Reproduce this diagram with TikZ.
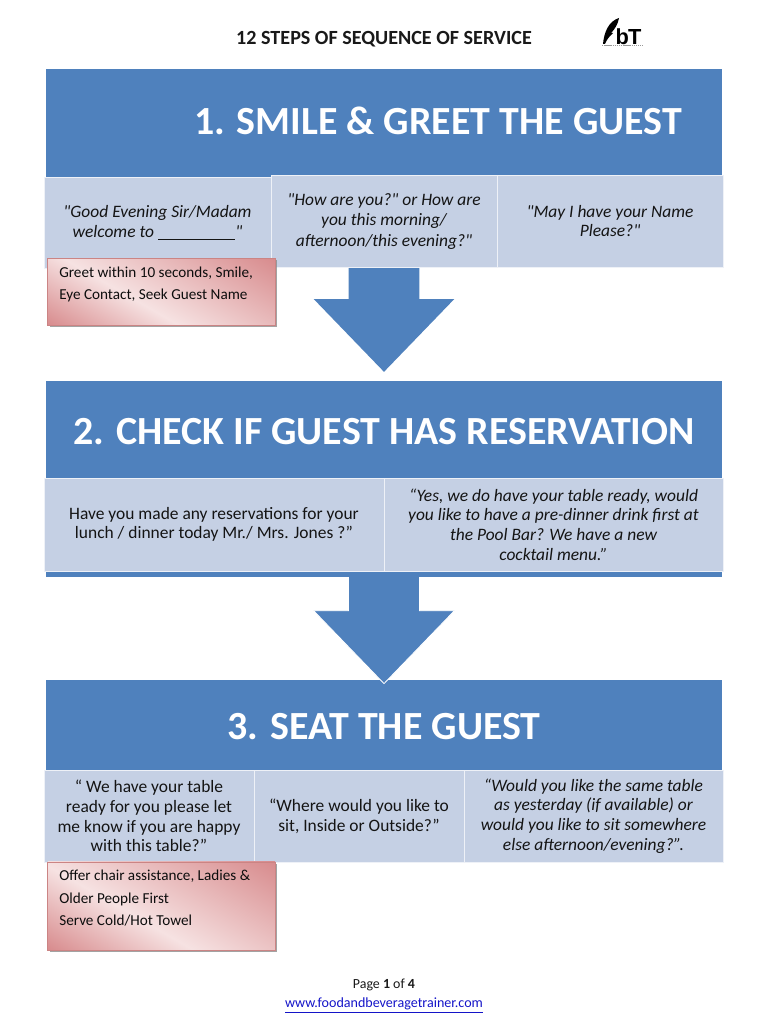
\documentclass[tikz,border=0pt]{standalone}
\usepackage{fontspec}
\setmainfont{Carlito}[Ligatures=TeXOff]
\newfontfamily\logofont{Liberation Sans}
\usetikzlibrary{positioning, shapes.arrows, shadows, calc}
\definecolor{headblue}{RGB}{79,129,189}
\definecolor{cellblue}{RGB}{197,208,228}
\definecolor{noteline}{RGB}{203,132,132}
\definecolor{linkblue}{RGB}{20,20,200}
\definecolor{notedark}{RGB}{216,140,142}
\definecolor{notepale}{RGB}{246,226,226}
\pgfdeclarehorizontalshading{notegrad}{100bp}{color(0bp)=(notedark); color(16bp)=(notedark); color(42bp)=(notepale); color(84bp)=(notedark); color(100bp)=(notedark)}

\begin{document}
\begin{tikzpicture}[
  x=0.025cm, y=-0.025cm,
  head/.style={fill=headblue, minimum width=16.9cm, inner sep=0pt, outer sep=0pt},
  htitle/.style={font=\fontsize{28.4}{32}\selectfont\bfseries\color{white}, inner sep=0pt, align=center},
  cell/.style={fill=cellblue, draw=white!70!cellblue, line width=0.6pt, align=center, inner sep=0pt, outer sep=0pt, text=black!92, font=\fontsize{12.4}{14}\selectfont},
  cellit/.style={cell, font=\fontsize{12.4}{14}\selectfont\itshape},
  note/.style={draw=noteline, line width=0.7pt, minimum width=5.675cm, inner sep=0pt, shading=notegrad, shading angle=60, drop shadow={shadow xshift=1.2pt, shadow yshift=-1.2pt, fill=black!45, opacity=0.8}},
  notetxt/.style={anchor=north west, align=left, inner sep=0pt, text=black!95, font=\fontsize{10.8}{16}\selectfont},
  blockarr/.style={single arrow, fill=headblue, draw=none, shape border rotate=270, minimum width=3.5cm, single arrow head extend=0.875cm, single arrow tip angle=88, inner sep=0.875cm, outer sep=0pt},
]
  \useasboundingbox (0,0) rectangle (768,1024);

  \node[font=\fontsize{14.3}{16}\selectfont\bfseries, text=black!90] (maintitle) at (384,39) {12 STEPS OF SEQUENCE OF SERVICE};
  % logo
  \fill[black] (619,18) .. controls (609,21) and (604,32) .. (603,44) -- (605,44) .. controls (607,39) and (609,37) .. (613,33) -- (611,33) .. controls (615,29) and (618,24) .. (619,18) -- cycle;
  \node[font=\fontsize{15.5}{16}\selectfont\bfseries\logofont, inner sep=0pt] (logotxt) at (628.5,36.5) {b\kern-0.5pt T};
  \draw[black!40, line width=0.8pt, dash pattern=on 1pt off 0.5pt] (602,45.5) -- (643,45.5);

  % step 1
  \node[blockarr, minimum height=2.6cm] (arr1) at (384,300) {};
  \node[head, minimum height=2.7cm] (head1) at (384,123) {};
  \node[htitle] (title1) at (438,121) {1. SMILE \& GREET THE GUEST};
  \node[cellit, minimum width=5.675cm, minimum height=2.275cm] (c11) at (157.5,222.5) {"Good Evening Sir/Madam\\welcome to \rule[-1.6pt]{55pt}{0.6pt}"};
  \node[cellit, minimum width=5.65cm, minimum height=2.3cm, font=\fontsize{12.4}{14.3}\selectfont\itshape] (c12) at (384,221.5) {"How are you?" or How are\\you this morning/\\afternoon/this evening?"};
  \node[cellit, minimum width=5.65cm, minimum height=2.3cm] (c13) at (610,221) {"May I have your Name\\Please?"};
  \node[note, minimum height=1.675cm] (note1) at (161.5,292) {};
  \node[notetxt] (note1txt) at (59,266.5) {Greet within 10 seconds, Smile,\\Eye Contact, Seek Guest Name};

  % step 3
  \node[head, minimum height=2.25cm] (head3) at (384,725) {};
  \node[htitle] (title3) at (384,727) {3. SEAT THE GUEST};
  \node[cell, minimum width=5.25cm, minimum height=2.3cm] (c31) at (149,816) {“ We have your table\\ready for you please let\\me know if you are happy\\with this table?”};
  \node[cell, minimum width=5.25cm, minimum height=2.3cm] (c32) at (359,816) {“Where would you like to\\sit, Inside or Outside?”};
  \node[cellit, minimum width=6.475cm, minimum height=2.3cm] (c33) at (593.5,816) {“Would you like the same table\\as yesterday (if available) or\\would you like to sit somewhere\\else afternoon/evening?”.};
  \node[note, minimum height=2.2cm] (note2) at (161.5,906) {};
  \node[notetxt] (note2txt) at (59,870) {Offer chair assistance, Ladies \&\\Older People First\\Serve Cold/Hot Towel};

  \node[blockarr, draw=white, line width=0.6pt, minimum height=2.675cm] (arr2) at (384,611.5) {};

  % step 2
  \node[head, minimum height=4.9cm] (head2) at (384,479) {};
  \node[htitle] (title2) at (384,432) {2. CHECK IF GUEST HAS RESERVATION};
  \node[cell, minimum width=8.5cm, minimum height=2.325cm] (c21) at (214,524.5) {Have you made any reservations for your\\lunch / dinner today Mr./ Mrs. Jones ?”};
  \node[cellit, minimum width=8.475cm, minimum height=2.325cm] (c22) at (553.5,524.5) {“Yes, we do have your table ready, would\\you like to have a pre-dinner drink first at\\the Pool Bar? We have a new\\cocktail menu.”};

  % footer
  \node[font=\fontsize{9.9}{11}\selectfont, text=black!90] (pageno) at (384,985) {Page \textbf{1} of \textbf{4}};
  \node[font=\fontsize{10}{12}\selectfont, text=linkblue, below=0pt of pageno, inner sep=1pt, yshift=0pt] (weblink) {\underline{www.foodandbeveragetrainer.com}};
\end{tikzpicture}
\end{document}
